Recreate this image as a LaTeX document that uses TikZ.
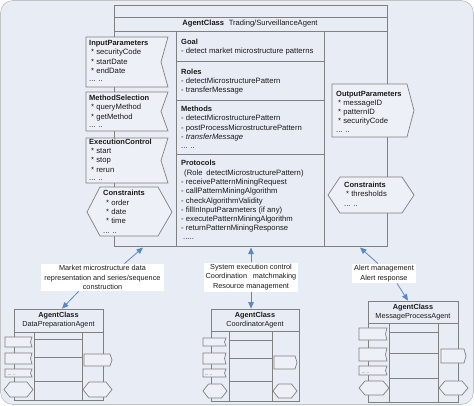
\documentclass[tikz,border=0pt]{standalone}
\usepackage{fontspec}
\setmainfont{Liberation Sans}
\usetikzlibrary{arrows.meta}
\definecolor{bgfill}{HTML}{E8ECF4}
\definecolor{linec}{HTML}{808080}
\definecolor{arrowc}{HTML}{5A88C6}
\definecolor{shapefill}{HTML}{EDF0F6}
\definecolor{txtc}{HTML}{1A1A1A}
\tikzset{
  ln/.style={draw=linec, line width=0.7pt},
  shp/.style={draw=linec, line width=0.7pt, fill=shapefill},
  txt/.style={anchor=base west, inner sep=0pt, text=txtc, font=\fontsize{7.7}{9}\selectfont},
  ttl/.style={anchor=base west, inner sep=0pt, text=txtc, font=\fontsize{7.5}{9}\selectfont\bfseries},
  tiny/.style={anchor=base west, inner sep=0pt, text=txtc, font=\fontsize{4}{4}\selectfont},
  arr/.style={draw=arrowc, line width=0.8pt, -{Triangle[length=6.5pt,width=5.5pt]}},
  lbl/.style={fill=white, inner sep=1.5pt, align=center, text=txtc, font=\fontsize{7.3}{9.6}\selectfont},
  hdr/.style={draw=linec, line width=0.7pt, fill=bgfill, inner sep=0pt, align=center, text=txtc, font=\fontsize{7.3}{9}\selectfont},
}
\newcommand\tl[5]{\node[#1] (#2) at (#3,#4) {#5};}
\begin{document}
\begin{tikzpicture}[x=1pt,y=-1pt]
\useasboundingbox (0,0) rectangle (474,405);
\draw[rounded corners=12pt, fill=bgfill, draw=linec!70] (0.6,0.6) rectangle (473.4,404.4);

% ---------- main agent class ----------
\draw[ln] (114,5) rectangle (387,246);
\draw[ln] (114,17) -- (387,17);
\draw[ln] (114,31) -- (387,31);
\draw[ln] (176,31) -- (176,246);
\draw[ln] (324,31) -- (324,246);
\draw[ln] (176,61) -- (324,61);
\draw[ln] (176,100) -- (324,100);
\draw[ln] (176,154) -- (324,154);
\node[inner sep=0pt, text=txtc, font=\fontsize{7.6}{9}\selectfont] (mh) at (250,24) {\textbf{AgentClass}\hspace{0.6em}Trading/SurveillanceAgent};

% Goal
\tl{ttl}{g0}{181}{44.7}{Goal}
\tl{txt}{g1}{181}{53.7}{- detect market microstructure patterns}
% Roles
\tl{ttl}{r0}{181}{74.5}{Roles}
\tl{txt}{r1}{181}{83.2}{- detectMicrostructurePattern}
\tl{txt}{r2}{181}{92.5}{- transferMessage}
% Methods
\tl{ttl}{m0}{181}{111.7}{Methods}
\tl{txt}{m1}{181}{120.9}{- detectMicrostructurePattern}
\tl{txt}{m2}{181}{130.1}{- postProcessMicrostructurePattern}
\tl{txt}{m3}{181}{139.3}{- \textit{transferMessage}}
\tl{txt}{m4}{181}{148.3}{... ..}
% Protocols
\tl{ttl}{p0}{181}{165.7}{Protocols}
\tl{txt}{p1}{184}{175.3}{(Role\hspace{0.5em}detectMicrostructurePattern)}
\tl{txt}{p2}{181}{184.6}{- receivePatternMiningRequest}
\tl{txt}{p3}{181}{193.8}{- callPatternMiningAlgorithm}
\tl{txt}{p4}{181}{203.1}{- checkAlgorithmValidity}
\tl{txt}{p5}{181}{212.4}{- fillInInputParameters (if any)}
\tl{txt}{p6}{181}{221.1}{- executePatternMiningAlgorithm}
\tl{txt}{p7}{181}{230.5}{- returnPatternMiningResponse}
\tl{txt}{p8}{183}{239.5}{.....}

% ---------- left side shapes ----------
\draw[shp] (86,37) -- (168,37) -- (161,62) -- (168,87) -- (86,87) -- cycle;
\tl{ttl}{i0}{89}{45.7}{InputParameters}
\tl{txt}{i1}{91}{54.9}{* securityCode}
\tl{txt}{i2}{91}{64.1}{* startDate}
\tl{txt}{i3}{91}{73.3}{* endDate}
\tl{txt}{i4}{89}{81.5}{... ..}

\draw[shp] (86,92) -- (168,92) -- (161,111.5) -- (168,131) -- (86,131) -- cycle;
\tl{ttl}{s0}{89}{100.6}{MethodSelection}
\tl{txt}{s1}{91}{109.8}{* queryMethod}
\tl{txt}{s2}{91}{119.0}{* getMethod}
\tl{txt}{s3}{89}{127.8}{... ..}

\draw[shp] (86,138) -- (168,138) -- (161,160.5) -- (168,183) -- (86,183) -- cycle;
\tl{ttl}{e0}{89}{144.7}{ExecutionControl}
\tl{txt}{e1}{91}{153.8}{* start}
\tl{txt}{e2}{91}{162.9}{* stop}
\tl{txt}{e3}{91}{172.0}{* rerun}
\tl{txt}{e4}{89}{180.3}{... ..}

\draw[shp] (87,212) -- (100,187) -- (158,187) -- (172,212) -- (158,236) -- (100,236) -- cycle;
\tl{ttl}{c0}{103}{195.8}{Constraints}
\tl{txt}{c1}{106}{205.0}{* order}
\tl{txt}{c2}{106}{214.2}{* date}
\tl{txt}{c3}{106}{223.4}{* time}
\tl{txt}{c4}{103}{233.0}{... ..}

% ---------- right side shapes ----------
\draw[shp] (332,84) -- (407,84) -- (414,110.5) -- (407,137) -- (332,137) -- cycle;
\tl{ttl}{o0}{336}{96.0}{OutputParameters}
\tl{txt}{o1}{338}{105.2}{* messageID}
\tl{txt}{o2}{338}{114.4}{* patternID}
\tl{txt}{o3}{338}{123.6}{* securityCode}
\tl{txt}{o4}{336}{132.3}{... ..}

\draw[shp] (328,195) -- (340,177) -- (402,177) -- (414,195) -- (402,213) -- (340,213) -- cycle;
\tl{ttl}{k0}{344}{187.7}{Constraints}
\tl{txt}{k1}{346}{196.9}{* thresholds}
\tl{txt}{k2}{344}{206.3}{... ..}

% ---------- agent 1 ----------
\node[hdr, minimum width=89pt, minimum height=23pt] (a1h) at (58.5,320.5) {\textbf{AgentClass}\\DataPreparationAgent};
\draw[ln] (14,332) -- (14,400) -- (103,400) -- (103,332);
\draw[ln] (34,332) -- (34,400);
\draw[ln] (82,332) -- (82,400);
\draw[ln] (34,339) -- (82,339);
\draw[ln] (34,357) -- (82,357);
\draw[ln] (34,381) -- (82,381);
\draw[shp] (5,337) -- (32,337) -- (30.5,342) -- (32,347) -- (5,347) -- cycle;
\draw[shp] (5,353) -- (32,353) -- (30.5,358.5) -- (32,364) -- (5,364) -- cycle;
\draw[shp] (5,369) -- (32,369) -- (30.5,373) -- (32,377) -- (5,377) -- cycle;
\tl{tiny}{a1d}{8}{375}{... ..}
\draw[shp] (4,389.5) -- (10,382) -- (27,382) -- (33,389.5) -- (27,397) -- (10,397) -- cycle;
\draw[shp] (84,354) -- (110,354) -- (112,360) -- (110,366) -- (84,366) -- cycle;
\draw[shp] (83,389.5) -- (89,382) -- (106,382) -- (112,389.5) -- (106,397) -- (89,397) -- cycle;

% ---------- agent 2 ----------
\node[hdr, minimum width=88pt, minimum height=22pt] (a2h) at (255,320) {\textbf{AgentClass}\\CoordinatorAgent};
\draw[ln] (211,331) -- (211,401) -- (299,401) -- (299,331);
\draw[ln] (229,331) -- (229,401);
\draw[ln] (272,331) -- (272,401);
\draw[ln] (229,340) -- (272,340);
\draw[ln] (229,358) -- (272,358);
\draw[ln] (229,381) -- (272,381);
\draw[shp] (203,338) -- (226,338) -- (224.5,342) -- (226,346) -- (203,346) -- cycle;
\draw[shp] (203,353) -- (226,353) -- (224.5,358.5) -- (226,364) -- (203,364) -- cycle;
\draw[shp] (203,369) -- (226,369) -- (224.5,373) -- (226,377) -- (203,377) -- cycle;
\tl{tiny}{a2d}{205}{375}{... ..}
\draw[shp] (203,391) -- (208.5,384) -- (221.5,384) -- (227,391) -- (221.5,398) -- (208.5,398) -- cycle;
\draw[shp] (274,356) -- (295,356) -- (297,362.5) -- (295,369) -- (274,369) -- cycle;
\draw[shp] (273,391) -- (278.5,384) -- (291.5,384) -- (297,391) -- (291.5,398) -- (278.5,398) -- cycle;

% ---------- agent 3 ----------
\node[hdr, minimum width=90pt, minimum height=22pt] (a3h) at (413,312) {\textbf{AgentClass}\\MessageProcessAgent};
\draw[ln] (368,323) -- (368,402) -- (458,402) -- (458,323);
\draw[ln] (389,323) -- (389,402);
\draw[ln] (438,323) -- (438,402);
\draw[ln] (389,332) -- (438,332);
\draw[ln] (389,353) -- (438,353);
\draw[ln] (389,378) -- (438,378);
\draw[shp] (359,328) -- (387,328) -- (385.5,334) -- (387,340) -- (359,340) -- cycle;
\draw[shp] (359,348) -- (387,348) -- (385.5,354.5) -- (387,361) -- (359,361) -- cycle;
\draw[shp] (359,366) -- (387,366) -- (385.5,370.5) -- (387,375) -- (359,375) -- cycle;
\tl{tiny}{a3d}{362}{373}{... ..}
\draw[shp] (359,388) -- (365,381) -- (383,381) -- (389,388) -- (383,395) -- (365,395) -- cycle;
\draw[shp] (441,349) -- (464,349) -- (466,356) -- (464,363) -- (441,363) -- cycle;
\draw[shp] (439,388) -- (445,381) -- (462,381) -- (468,388) -- (462,395) -- (445,395) -- cycle;

% ---------- labels and arrows ----------
\node[lbl, minimum width=123pt] (l1) at (102.5,277.5) {Market microstructure data\\representation and series/sequence\\construction};
\node[lbl, minimum width=94pt] (l2) at (251,277) {System execution control\\Coordination\hspace{0.8em}matchmaking\\Resource management};
\node[lbl, minimum width=64pt] (l3) at (384,273.5) {Alert management\\Alert response};

\coordinate (t1) at (143,247.5);
\coordinate (t2) at (251,247.5);
\coordinate (t3) at (360,247.5);
\draw[arr] ([xshift=22pt]l1.north) -- (t1);
\draw[arr] (l2.north) -- (t2);
\draw[arr] ([xshift=-6pt]l3.north) -- (t3);
\draw[arr] ([xshift=-24pt]l1.south) -- ([xshift=3.5pt]a1h.north);
\draw[arr] ([xshift=0pt]l2.south) -- ([xshift=-4pt]a2h.north);
\draw[arr] ([xshift=13pt]l3.south) -- ([xshift=-5pt]a3h.north);
\end{tikzpicture}
\end{document}
